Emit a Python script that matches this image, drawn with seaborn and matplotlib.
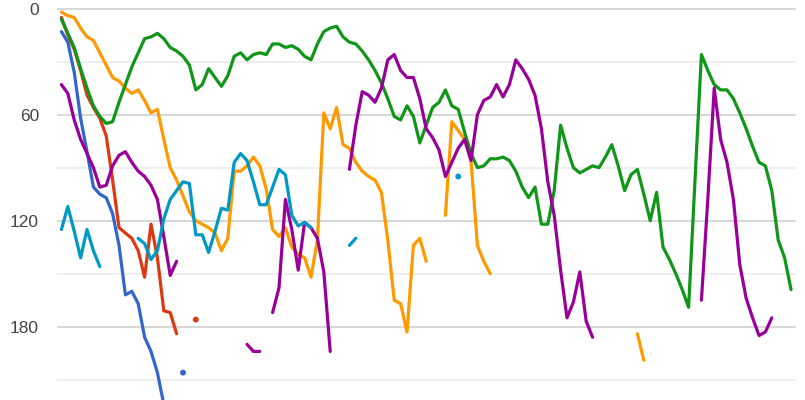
import numpy as np
import pandas as pd
import matplotlib
matplotlib.use("Agg")
import matplotlib.pyplot as plt
import seaborn as sns

# x positions (one per period), 115 periods
periods = list(range(115))

# rank of each series per period (None = no data)
blue = [13, 19, 36, 62, 81, 101, 105, 107, 116, 134, 162, 160, 167, 186, 194, 206, 224,
        None, None, 206] + [None] * 95

red = [5, 15, 23, 35, 49, 56, 62, 72, 97, 124, 127, 130, 137, 152, 122, 141, 171, 172, 184,
       None, None, 176] + [None] * 93

orange = ([2, 4, 5, 11, 16, 18, 25, 32, 39, 41, 45, 48, 46, 52, 59, 57, 74, 90, 97, 106,
           115, 120, 122, 124, 127, 137, 130, 92, 92, 89, 84, 89, 102, 125, 129, 124, 135, 139,
           141, 152, 131, 59, 68, 56, 77, 79, 87, 92, 95, 97, 104, 131, 165, 167, 183, 134,
           130, 143]
          + [None] * 2
          + [117, 64, 69, 74, 86, 134, 143, 150]
          + [None] * 22
          + [184, 199]
          + [None] * 23)

green = [6, 14, 22, 34, 45, 55, 61, 65, 64, 53, 43, 33, 25, 17, 16, 14, 17, 22, 24, 27,
         32, 46, 43, 34, 39, 44, 38, 27, 25, 29, 26, 25, 26, 20, 20, 22, 21, 23, 27, 29,
         20, 13, 11, 10, 16, 19, 20, 24, 29, 35, 42, 51, 61, 63, 55, 61, 76, 66, 56, 53,
         46, 55, 57, 70, 82, 90, 89, 85, 85, 84, 86, 92, 101, 107, 101, 122, 122, 103, 66, 79,
         90, 93, 91, 89, 90, 84, 77, 89, 103, 94, 91, 105, 120, 104, 135, 142, 150, 159, 169, 97,
         26, 35, 43, 46, 46, 51, 59, 68, 78, 87, 89, 103, 131, 141, 159]

purple = ([43, 48, 63, 74, 82, 90, 101, 100, 89, 83, 81, 87, 92, 95, 100, 108, 129, 151, 143]
          + [None] * 10
          + [190, 194, 194]
          + [None]
          + [172, 158, 108, 125, 148, 121, 124, 130, 149, 194]
          + [None] * 2
          + [91, 66, 47, 49, 53, 45, 29, 26, 35, 39, 39, 51, 68, 73, 80, 95, 87, 79, 74, 86,
             60, 52, 50, 43, 50, 43, 29, 34, 40, 49, 68, 98, 117, 148, 175, 166, 149, 177, 186]
          + [None] * 16
          + [165, 108, 45, 74, 87, 108, 145, 164, 175, 185, 183, 175]
          + [None] * 3)

cyan = ([125, 112, 126, 141, 125, 137, 146]
        + [None] * 5
        + [130, 133, 142, 137, 119, 108, 103, 98, 99, 128, 128, 138, 126, 113, 114, 87, 82,
           86, 98, 111, 111, 101, 91, 94, 117, 123, 121, 124]
        + [None] * 5
        + [134, 130]
        + [None] * 15
        + [95]
        + [None] * 52)

series = {"blue": blue, "red": red, "orange": orange,
          "green": green, "purple": purple, "cyan": cyan}
colors = {"blue": "#3366cc", "red": "#dc3912", "orange": "#ff9900",
          "green": "#109618", "purple": "#990099", "cyan": "#0099c6"}

# long table, one unit per unbroken run so gaps stay gaps
rows = []
for name, vals in series.items():
    seg = 0
    for x, v in zip(periods, vals):
        if v is None:
            seg += 1
            continue
        rows.append({"x": x, "rank": v, "series": name, "seg": f"{name}-{seg}"})
df = pd.DataFrame(rows)
df["n"] = df.groupby("seg")["x"].transform("size")

sns.set_style("white")
plt.rcParams["font.family"] = ["Liberation Sans", "DejaVu Sans"]

fig = plt.figure(figsize=(8.05, 4.0), dpi=100)
ax = fig.add_axes([57 / 805, 0, (796 - 57) / 805, 1])

sns.lineplot(data=df[df["n"] > 1], x="x", y="rank", hue="series", units="seg",
             estimator=None, sort=False, palette=colors, hue_order=list(series),
             linewidth=2.3, legend=False, ax=ax,
             solid_capstyle="round", solid_joinstyle="round")
# single-period runs show as dots
sns.scatterplot(data=df[df["n"] == 1], x="x", y="rank", hue="series",
                palette=colors, s=18, linewidth=0, legend=False, ax=ax)

ax.set_xlim(-0.69, 114.78)
ax.set_ylim(221.5, -4.87)
ax.set_yticks([0, 60, 120, 180])
ax.set_yticks([30, 90, 150, 210], minor=True)
ax.set_xticks([])
ax.grid(which="major", axis="y", color="#cccccc", linewidth=1.1)
ax.grid(which="minor", axis="y", color="#ebebeb", linewidth=1.1)
ax.set_axisbelow(True)
ax.tick_params(axis="y", which="both", length=0, pad=13, labelsize=12.5, labelcolor="#444444")
ax.set_xlabel("")
ax.set_ylabel("")
for s in ax.spines.values():
    s.set_visible(False)

fig.savefig("out.png", dpi=100)
